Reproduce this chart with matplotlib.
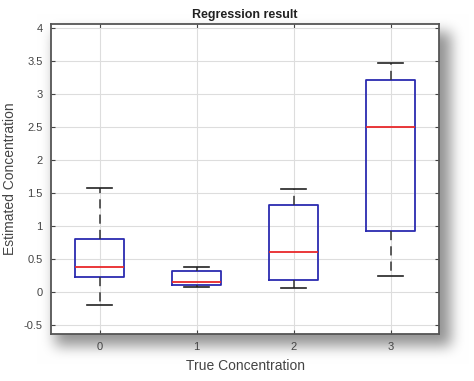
import numpy as np
import matplotlib
matplotlib.use("Agg")
import matplotlib.pyplot as plt

plt.rcParams['font.family'] = ['Liberation Sans', 'DejaVu Sans']

# five-number summaries, one per true concentration
positions = [0, 1, 2, 3]
labels = ["0", "1", "2", "3"]
whislo = [-0.20, 0.08, 0.05, 0.24]
q1 = [0.23, 0.11, 0.18, 0.92]
med = [0.38, 0.15, 0.61, 2.50]
q3 = [0.80, 0.32, 1.32, 3.21]
whishi = [1.58, 0.38, 1.56, 3.47]

stats = []
for i in range(len(positions)):
    stats.append(dict(label=labels[i], whislo=whislo[i], q1=q1[i], med=med[i],
                      q3=q3[i], whishi=whishi[i], fliers=[]))

W, H = 474, 381
fig = plt.figure(figsize=(W / 100, H / 100), dpi=100, facecolor="white")

# soft drop shadow behind the axes box
mask = np.zeros((H, W))
mask[24 + 8:334 + 12, 51 + 4:439 + 12] = 1.0
k = np.ones(13) / 13.0
for _ in range(3):
    mask = np.apply_along_axis(lambda r: np.convolve(r, k, mode="same"), 1, mask)
    mask = np.apply_along_axis(lambda c: np.convolve(c, k, mode="same"), 0, mask)
shade = 1 - 0.42 * mask
img = np.dstack([shade, shade, shade])
fig.figimage(img, xo=0, yo=0, origin="upper", zorder=-1)

ax = fig.add_axes([51 / W, (H - 334) / H, 388 / W, 310 / H])
ax.set_facecolor("white")

ax.bxp(stats, positions=positions, widths=0.5, showfliers=False, capwidths=0.26,
       boxprops=dict(color="#2b2bb0", linewidth=1.3),
       medianprops=dict(color="#e8282a", linewidth=1.3),
       whiskerprops=dict(color="#333333", linestyle=(0, (6, 4)), linewidth=1.1),
       capprops=dict(color="#222222", linewidth=1.2))

ax.set_xlim(-0.5, 3.5)
ax.set_ylim(-0.64, 4.06)
ax.set_yticks(np.arange(-0.5, 4.01, 0.5))
ax.set_yticklabels(["-0.5", "0", "0.5", "1", "1.5", "2", "2.5", "3", "3.5", "4"])
ax.set_xticks(positions)
ax.set_xticklabels(labels)
ax.grid(True, color="#dddddd", linewidth=0.8)
ax.set_axisbelow(True)
ax.tick_params(direction="in", top=True, right=True, length=3, labelsize=8,
               colors="#444444", labelcolor="#444444", pad=6)
for s in ax.spines.values():
    s.set_color("#555555")
    s.set_linewidth(1.3)

ax.set_title("Regression result", fontsize=9, fontweight="bold", color="#222222", pad=4)
ax.set_xlabel("True Concentration", fontsize=10, color="#444444", labelpad=5)
ax.set_ylabel("Estimated Concentration", fontsize=10, color="#444444", labelpad=5)

fig.savefig("out.png", dpi=100)
